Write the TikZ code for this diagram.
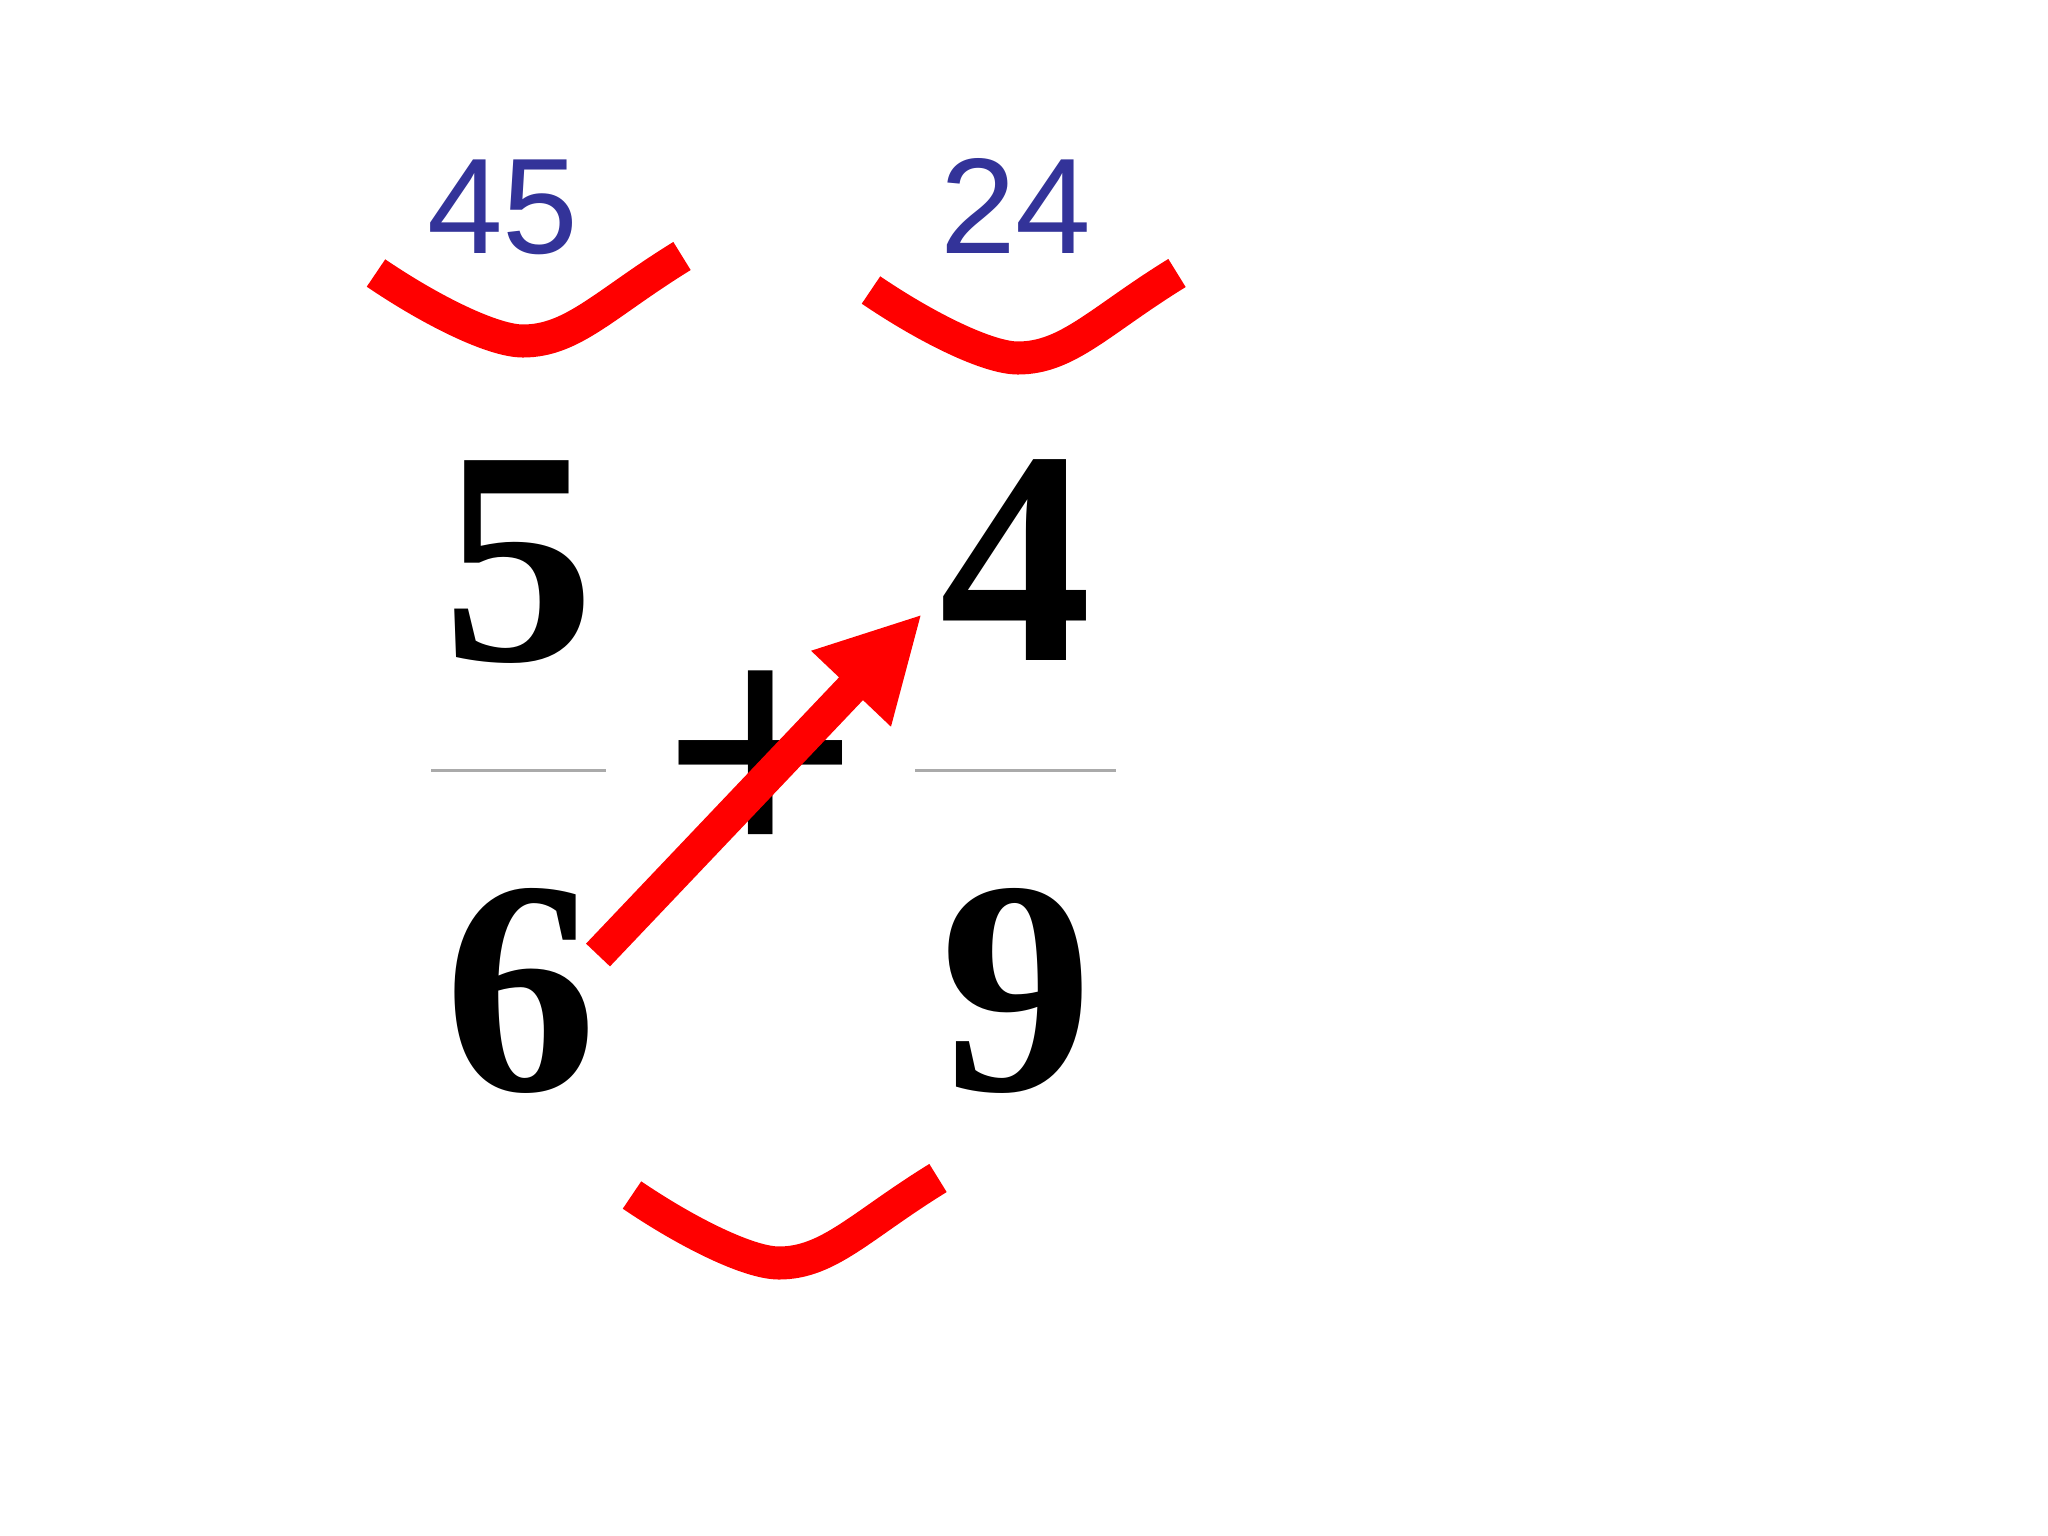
\documentclass[tikz,border=0pt]{standalone}
\usepackage{fontspec}
\setmainfont{Liberation Serif}
\newfontfamily\arialfont{Liberation Sans}
\usetikzlibrary{arrows.meta}
\definecolor{numblue}{RGB}{51,51,153}
\definecolor{fracgray}{RGB}{170,170,170}
\tikzset{
  bigdigit/.style={inner sep=0pt, anchor=base, font=\fontsize{86.8pt}{90pt}\selectfont\bfseries},
  smalltext/.style={inner sep=0pt, anchor=base, text=numblue, font=\arialfont\fontsize{38.7pt}{40pt}\selectfont},
  plussign/.style={inner sep=0pt, anchor=center, font=\fontsize{100pt}{104pt}\selectfont\bfseries},
  fracline/.style={draw=fracgray, line width=0.03cm},
  smilestroke/.style={draw=red, line width=0.33cm},
  redarrow/.style={draw=red, line width=0.33cm, -{Triangle[length=1.03cm, width=1.02cm]}},
  smile/.pic={\path[smilestroke] (-147,-68) .. controls (-91,-30) and (-30,0) .. (0,0) .. controls (50,0) and (82.5,-38) .. (159,-85);}
}
\begin{document}
\begin{tikzpicture}[x=0.01cm, y=-0.01cm]
\useasboundingbox[fill=white] (0,0) rectangle (2048,1536);
% small blue numbers
\node[smalltext] (t45) at (503,253) {45};
\node[smalltext] (t24) at (1016,253) {24};
% red arcs
\pic (arcA) at (523,341) {smile};
\pic (arcB) at (1018,358) {smile};
\pic (arcC) at (779,1263) {smile};
% big digits
\node[bigdigit] (n5) at (519,660) {5};
\node[bigdigit] (n4) at (1016,660) {4};
\node[bigdigit] (n6) at (521,1090) {6};
\node[bigdigit] (n9) at (1017,1090) {9};
% fraction lines
\coordinate (fl1) at (431,770);
\coordinate (fr1) at (606,770);
\coordinate (fl2) at (915,770);
\coordinate (fr2) at (1116,770);
\draw[fracline] (fl1) -- (fr1);
\draw[fracline] (fl2) -- (fr2);
% plus
\node[plussign] (plus) at (761,770) {+};
% arrow
\coordinate (atail) at (598,955);
\coordinate (atip) at (922,614);
\draw[redarrow] (atail) -- (atip);
\end{tikzpicture}
\end{document}
